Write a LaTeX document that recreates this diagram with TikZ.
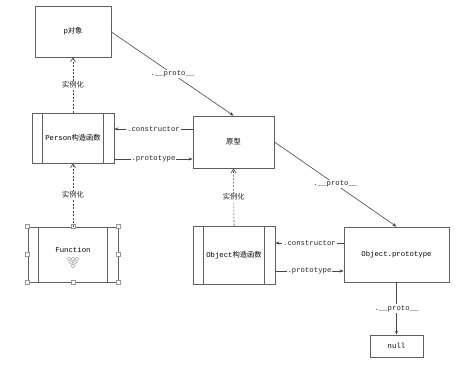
\documentclass[tikz,border=0pt]{standalone}
\usepackage{fontspec}
\setmonofont{Liberation Mono}
\newfontfamily\cjk{Noto Sans CJK SC}
\usetikzlibrary{arrows.meta}
\newcommand{\zh}[1]{{\cjk #1}}
\definecolor{boxline}{RGB}{95,95,95}
\definecolor{arrline}{RGB}{70,70,70}
\definecolor{handle}{RGB}{150,150,150}
\tikzset{
  % boxes
  objbox/.style  = {draw=boxline, line width=0.8pt, inner sep=0pt, font=\fontsize{7.3}{8}\ttfamily},
  ctorbox/.style = {objbox, path picture={
      \draw[boxline, line width=0.8pt]
        ([xshift=10.5pt]path picture bounding box.north west) -- ([xshift=10.5pt]path picture bounding box.south west)
        ([xshift=-10.5pt]path picture bounding box.north east) -- ([xshift=-10.5pt]path picture bounding box.south east);}},
  % connectors
  linkarr/.style = {draw=arrline, line width=0.6pt, -{Stealth[length=4pt,width=3.2pt]}},
  instarr/.style = {draw=arrline, line width=0.6pt, dashed, dash pattern=on 2pt off 1.5pt, -{Straight Barb[length=4pt,width=5pt]}},
  lab/.style     = {fill=white, inner sep=1pt, font=\fontsize{7.3}{8}\ttfamily, text=black!85},
  hdl/.style     = {draw=handle, fill=white, line width=0.4pt, minimum size=4pt, inner sep=0pt},
}
\begin{document}
\begin{tikzpicture}[x=1pt, y=-1pt]
  \useasboundingbox[fill=white] (0,0) rectangle (474,371);
  % objects
  \node[objbox, minimum width=76pt, minimum height=51pt] (pobj) at (73,31.5) {p\zh{对象}};
  \node[ctorbox, minimum width=82pt, minimum height=50pt] (person) at (73,138) {Person\zh{构造函数}};
  \node[objbox, minimum width=81pt, minimum height=52pt] (proto) at (233.5,142) {\zh{原型}};
  \node[ctorbox, minimum width=90pt, minimum height=55pt, text depth=9pt] (func) at (73,254.5) {Function};
  \node[ctorbox, minimum width=82pt, minimum height=58pt] (objctor) at (234,255) {Object\zh{构造函数}};
  \node[objbox, minimum width=105pt, minimum height=55pt] (objproto) at (396.5,254.5) {Object.prototype};
  \node[objbox, minimum width=53pt, minimum height=22pt] (null) at (396.5,346) {null};
  % selection handles of Function
  \foreach \a in {north west,north,north east,east,south east,south,south west,west}
    \node[hdl] at (func.\a) {};
  \foreach \dx/\dy in {-4/-1.5,0/-1.5,4/-1.5,-2/2,2/2,0/5.5}
    \draw[handle, line width=0.4pt] ([xshift=\dx pt, yshift=-\dy pt]func.center) ++(0,6) circle (1.8pt);
  % instantiation
  \draw[instarr] (person.north) -- (pobj.south) node[lab, midway] {\zh{实例化}};
  \draw[instarr] (func.north) -- (person.south) node[lab, midway] {\zh{实例化}};
  \draw[instarr] (objctor.north) -- (proto.south) node[lab, midway] {\zh{实例化}};
  % __proto__ chain
  \draw[linkarr] ([yshift=-0.5pt]pobj.east) -- (proto.north) node[lab, midway] {.\_\_proto\_\_};
  \draw[linkarr] (proto.east) -- (objproto.north) node[lab, midway] {.\_\_proto\_\_};
  \draw[linkarr] (objproto.south) -- (null.north) node[lab, midway] {.\_\_proto\_\_};
  % constructor / prototype
  \draw[linkarr] ([yshift=13pt]proto.west) -- ([yshift=13pt]proto.west -| person.east) node[lab, midway] {.constructor};
  \draw[linkarr] ([yshift=-21pt]person.east) -- ([yshift=-21pt]person.east -| proto.west) node[lab, midway] {.prototype};
  \draw[linkarr] ([yshift=11.5pt]objproto.west) -- ([yshift=11.5pt]objproto.west -| objctor.east) node[lab, midway] {.constructor};
  \draw[linkarr] ([yshift=-16.5pt]objproto.west -| objctor.east) -- ([yshift=-16.5pt]objproto.west) node[lab, midway] {.prototype};
\end{tikzpicture}
\end{document}
